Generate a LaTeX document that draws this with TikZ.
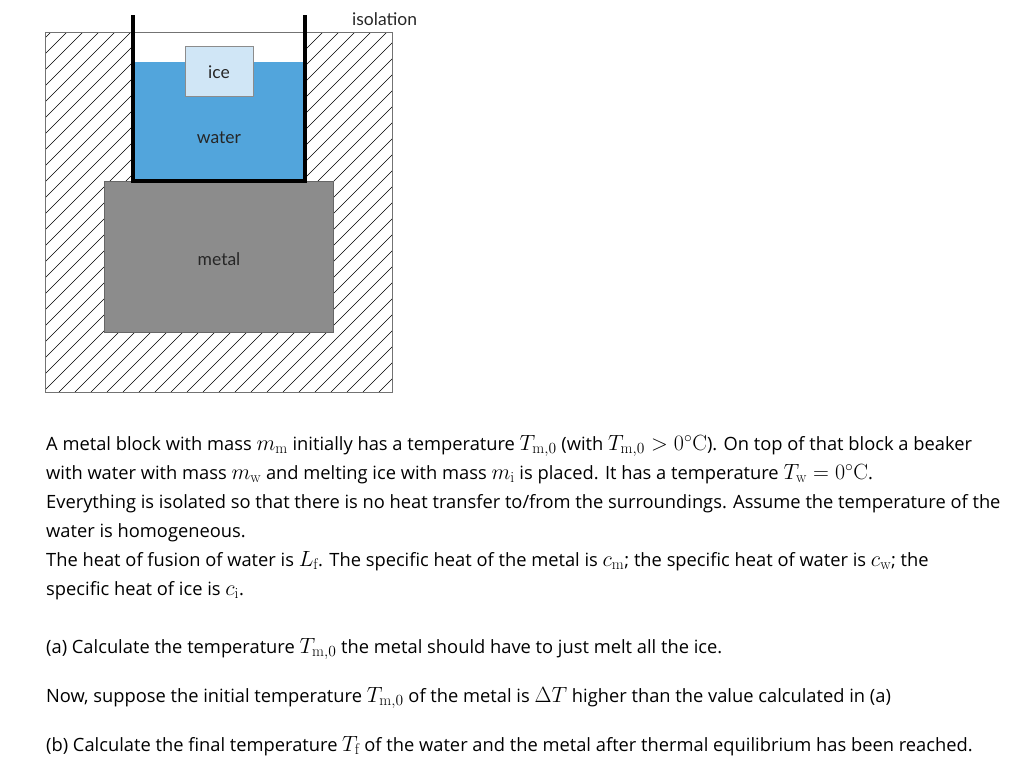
\documentclass[tikz,border=0pt]{standalone}
\RequirePackage{fix-cm}
\usepackage{fontspec}
\newfontfamily\txtfont{Open Sans}
\newfontfamily\lblfont{Lato}
\DeclareMathSizes{18.3}{22}{15.5}{12}
\begin{document}
\begin{tikzpicture}[x=1pt,y=-1pt,
  txt/.style={anchor=base west,inner sep=0pt,font=\txtfont\fontsize{18.3}{20}\selectfont},
  lbl/.style={inner sep=0pt,font=\lblfont\fontsize{17.5}{20}\selectfont,text=black!85}]
\useasboundingbox (0,0) rectangle (1024,763);
% hatching
\begin{scope}[even odd rule]
\clip (45,32) rectangle (392,392)
  (133,32) -- (305,32) -- (305,181) -- (333,181) -- (333,332) -- (104,332) -- (104,181) -- (133,181) -- cycle;
\foreach \i in {0,...,48} {\draw[line width=0.6pt] (45+16*\i-370,392) -- (45+16*\i,22);}
\end{scope}
\draw[black!55,line width=0.8pt] (45,32) rectangle (392,392);
\node[lbl,anchor=base west] (iso) at (352,25) {isolation};
% metal
\filldraw[fill=black!45,draw=black!60,line width=0.8pt] (104,181) rectangle (333,332);
\node[lbl] (metal) at (219,259) {metal};
% water
\fill[fill={rgb,255:red,82;green,165;blue,220}] (133,62) rectangle (305,181);
\node[lbl] (water) at (219,138) {water};
% ice
\filldraw[fill={rgb,255:red,208;green,230;blue,246},draw=black!45,line width=0.8pt] (185,46) rectangle (253,96);
\node[lbl] (ice) at (219,72) {ice};
% beaker
\draw[line width=4pt,line join=miter] (133,15) -- (133,181) -- (305,181) -- (305,15);
% text
\node[txt] (l1) at (46,450) {A metal block with mass $m_\mathrm{m}$ initially has a temperature $T_{\mathrm{m},0}$ (with $T_{\mathrm{m},0}>0^\circ\mathrm{C}$). On top of that block a beaker};
\node[txt] (l2) at (46,479) {with water with mass $m_\mathrm{w}$ and melting ice with mass $m_\mathrm{i}$ is placed. It has a temperature $T_\mathrm{w}=0^\circ\mathrm{C}$.};
\node[txt] (l3) at (46,508) {Everything is isolated so that there is no heat transfer to/from the surroundings. Assume the temperature of the};
\node[txt] (l4) at (46,537) {water is homogeneous.};
\node[txt] (l5) at (46,566) {The heat of fusion of water is $L_\mathrm{f}$. The specific heat of the metal is $c_\mathrm{m}$; the specific heat of water is $c_\mathrm{w}$; the};
\node[txt] (l6) at (46,595) {specific heat of ice is $c_\mathrm{i}$.};
\node[txt] (l7) at (46,653) {(a) Calculate the temperature $T_{\mathrm{m},0}$ the metal should have to just melt all the ice.};
\node[txt] (l8) at (46,702) {Now, suppose the initial temperature $T_{\mathrm{m},0}$ of the metal is $\Delta T$ higher than the value calculated in (a)};
\node[txt] (l9) at (46,751) {(b) Calculate the final temperature $T_\mathrm{f}$ of the water and the metal after thermal equilibrium has been reached.};
\end{tikzpicture}
\end{document}
